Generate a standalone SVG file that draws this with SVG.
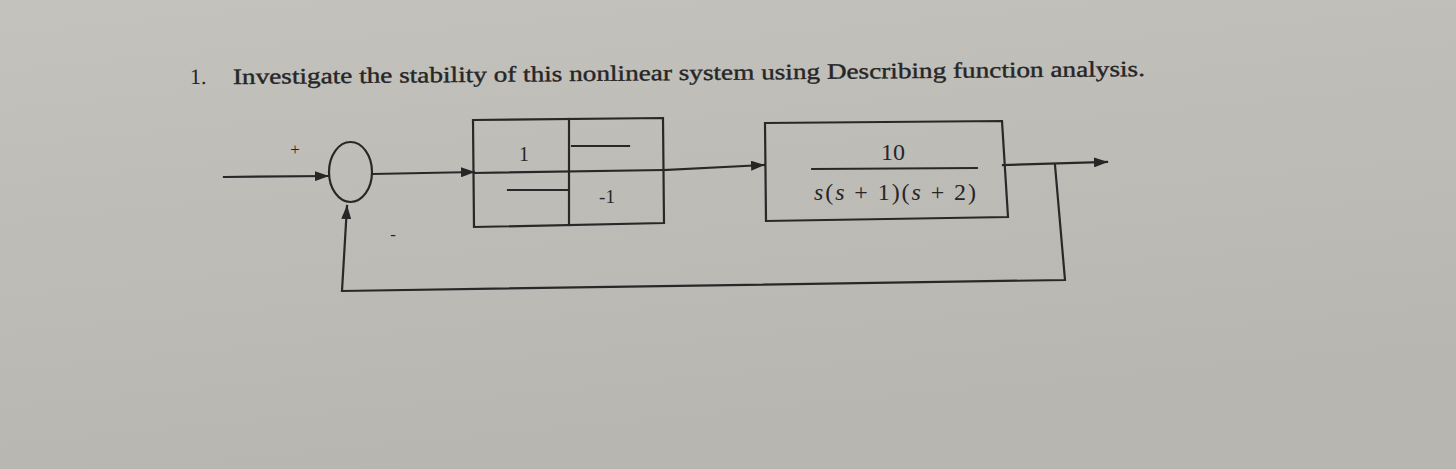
<svg xmlns="http://www.w3.org/2000/svg" width="1456" height="469" viewBox="0 0 1456 469">
<defs>
<linearGradient id="bg" x1="0" y1="0" x2="0.3" y2="1">
<stop offset="0" stop-color="#c4c2bc"/>
<stop offset="1" stop-color="#b8b6b0"/>
</linearGradient>
<marker id="arr" markerWidth="14" markerHeight="10" refX="13" refY="5" orient="auto" markerUnits="userSpaceOnUse">
<path d="M0,0 L14,5 L0,10 Z" fill="#262626"/>
</marker>
</defs>
<style>
.ln{fill:none;stroke:#282828;stroke-width:2.2;stroke-linecap:square}
.bx{fill:none;stroke:#282828;stroke-width:2.2}
.t{font-family:"Liberation Serif","Times New Roman",serif;fill:#262626}
.ti{font-family:"Liberation Serif","Times New Roman",serif;fill:#262626;font-style:italic}
</style>
<rect width="1456" height="469" fill="url(#bg)"/>
<g id="title">
<text class="t" x="190" y="84" font-size="22" transform="rotate(-0.5 190 84)">1.</text>
<text class="t" x="233" y="84" font-size="22" textLength="912" lengthAdjust="spacingAndGlyphs" transform="rotate(-0.5 233 84)" stroke="#262626" stroke-width="0.4">Investigate the stability of this nonlinear system using Describing function analysis.</text>
</g>
<g id="connectors">
<line class="ln" x1="224" y1="177" x2="328" y2="176" marker-end="url(#arr)"/>
<line class="ln" x1="373" y1="174" x2="474" y2="172" marker-end="url(#arr)"/>
<line class="ln" x1="663" y1="170" x2="764" y2="165" marker-end="url(#arr)"/>
<line class="ln" x1="1003" y1="165" x2="1107" y2="162" marker-end="url(#arr)"/>
<polyline class="ln" points="1055,165 1065,280 342,291 347,206" marker-end="url(#arr)"/>
</g>
<g id="sum">
<ellipse class="bx" cx="350.5" cy="172" rx="21.5" ry="30"/>
<text class="t" x="295" y="155" font-size="17" text-anchor="middle">+</text>
<text class="t" x="393" y="240" font-size="17" text-anchor="middle">-</text>
</g>
<g id="relay">
<polygon class="bx" points="473,120 663,118 664,223 474,227"/>
<line class="ln" x1="569" y1="119" x2="569" y2="225"/>
<line class="ln" x1="474" y1="173" x2="663" y2="170"/>
<line class="ln" x1="572" y1="146" x2="629" y2="146"/>
<line class="ln" x1="508" y1="190" x2="567" y2="190"/>
<text class="t" x="524" y="161" font-size="20" text-anchor="middle">1</text>
<text class="t" x="607" y="203" font-size="19" text-anchor="middle">-1</text>
</g>
<g id="plant">
<polygon class="bx" points="765,123 1002,121 1008,217 766,221"/>
<text class="t" x="893" y="160" font-size="24" text-anchor="middle">10</text>
<line class="ln" x1="812" y1="169" x2="977" y2="168" style="stroke-width:1.8"/>
<text class="ti" x="814" y="200" font-size="24" textLength="162" lengthAdjust="spacing">s<tspan style="font-style:normal">(</tspan>s<tspan style="font-style:normal"> + 1)(</tspan>s<tspan style="font-style:normal"> + 2)</tspan></text>
</g>
</svg>
